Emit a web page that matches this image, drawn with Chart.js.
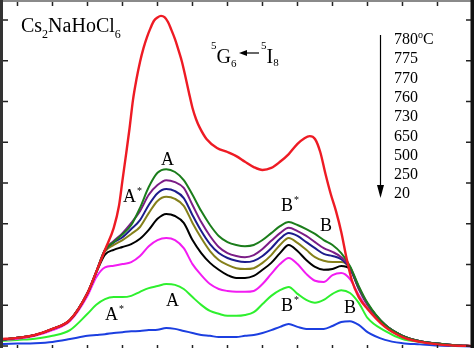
<!DOCTYPE html>
<html>
<head>
<meta charset="utf-8">
<script src="https://cdn.jsdelivr.net/npm/chart.js@4.4.0/dist/chart.umd.min.js"></script>
<style>
  html, body { margin: 0; padding: 0; background: #fff; }
  #wrap { width: 474px; height: 348px; position: relative; }
</style>
</head>
<body>
<div id="wrap"><canvas id="spectrum"></canvas></div>
<script>
// energy axis, arbitrary units (one tick = 1)
const xs = [-0.5, 0, 0.5, 1, 1.5, 2, 2.25, 2.5, 2.75, 3, 3.25, 3.5, 3.75, 4, 4.25, 4.5, 4.75, 5, 5.25, 5.5, 5.75,
  6, 6.25, 6.5, 6.75, 7, 7.25, 7.5, 7.75, 8, 8.25, 8.5, 8.75, 9, 9.25, 9.5, 9.75, 10, 10.5, 11, 11.5, 12, 12.5, 13];
const xsRed = [-0.5, 0, 0.5, 1, 1.5, 2, 2.25, 2.5, 2.75, 2.9, 3, 3.1, 3.2, 3.3, 3.4, 3.5, 3.6, 3.7, 3.8, 3.9, 4, 4.1,
  4.2, 4.3, 4.4, 4.5, 4.6, 4.7, 4.8, 4.9, 5, 5.1, 5.2, 5.4, 5.7, 6, 6.25, 6.5, 6.75, 7, 7.25, 7.5, 7.75, 8,
  8.2, 8.35, 8.5, 8.65, 8.8, 8.95, 9.1, 9.25, 9.4, 9.55, 9.75, 10, 10.5, 11, 11.5, 12, 12.5, 13];

// absorbance (a.u.) per temperature
const t780 = [0.17, 0.20, 0.27, 0.42, 0.64, 1.30, 1.82, 2.36, 2.90, 3.44, 4.07, 4.69, 5.33, 6.04, 6.55, 6.97, 7.31, 7.58, 7.80, 7.98, 8.06, 8.10,
  8.07, 7.95, 7.75, 7.53, 7.26, 6.97, 6.60, 6.21, 5.84, 5.57, 5.37, 5.08, 4.86, 4.76, 4.66, 4.52, 4.39, 4.32, 4.37, 4.52, 4.71, 4.96,
  5.10, 5.15, 5.08, 4.76, 4.22, 3.73, 3.31, 2.80, 2.16, 1.62, 1.20, 0.91, 0.47, 0.22, 0.10, 0.04, 0.01, 0.00];
const t775 = [0.15, 0.20, 0.27, 0.42, 0.64, 1.30, 1.82, 2.36, 2.55, 2.74, 2.97, 3.39, 3.90, 4.25, 4.34, 4.27, 4.07, 3.71, 3.31, 2.97, 2.70,
  2.55, 2.48, 2.45, 2.48, 2.60, 2.77, 2.94, 3.04, 2.97, 2.87, 2.75, 2.60, 2.48, 2.28, 1.96, 1.47, 1.06, 0.52, 0.25, 0.12, 0.06, 0.02, 0.00];
const t770 = [0.15, 0.20, 0.27, 0.42, 0.64, 1.30, 1.82, 2.36, 2.58, 2.77, 3.02, 3.31, 3.71, 3.95, 4.07, 4.02, 3.88, 3.46, 3.04, 2.70, 2.43,
  2.28, 2.21, 2.18, 2.23, 2.38, 2.58, 2.77, 2.90, 2.82, 2.70, 2.55, 2.40, 2.31, 2.18, 1.94, 1.45, 1.03, 0.52, 0.25, 0.12, 0.06, 0.02, 0.00];
const t760 = [0.15, 0.20, 0.27, 0.42, 0.64, 1.30, 1.82, 2.35, 2.54, 2.67, 2.87, 3.09, 3.46, 3.75, 3.85, 3.80, 3.63, 3.21, 2.82, 2.50, 2.28,
  2.16, 2.09, 2.06, 2.09, 2.21, 2.40, 2.63, 2.77, 2.70, 2.55, 2.40, 2.26, 2.21, 2.13, 1.91, 1.42, 1.03, 0.52, 0.25, 0.12, 0.06, 0.02, 0.00];
const t730 = [0.15, 0.20, 0.27, 0.42, 0.64, 1.30, 1.81, 2.32, 2.48, 2.60, 2.75, 2.92, 3.26, 3.56, 3.66, 3.61, 3.44, 3.02, 2.65, 2.33, 2.11,
  1.99, 1.91, 1.89, 1.91, 2.04, 2.23, 2.48, 2.65, 2.53, 2.36, 2.18, 2.09, 2.06, 2.06, 1.91, 1.40, 1.01, 0.49, 0.25, 0.12, 0.06, 0.02, 0.00];
const t650 = [0.15, 0.20, 0.27, 0.42, 0.64, 1.30, 1.80, 2.24, 2.36, 2.43, 2.50, 2.63, 2.85, 3.12, 3.24, 3.19, 3.02, 2.60, 2.28, 2.04, 1.87,
  1.74, 1.67, 1.67, 1.72, 1.87, 2.04, 2.28, 2.48, 2.33, 2.11, 1.94, 1.87, 1.89, 1.96, 1.89, 1.42, 1.03, 0.52, 0.25, 0.12, 0.06, 0.02, 0.00];
const t500 = [0.15, 0.18, 0.25, 0.39, 0.61, 1.23, 1.69, 1.93, 1.97, 2.01, 2.06, 2.21, 2.45, 2.60, 2.65, 2.60, 2.40, 2.01, 1.74, 1.52, 1.40,
  1.35, 1.33, 1.33, 1.35, 1.52, 1.77, 2.01, 2.16, 2.01, 1.77, 1.60, 1.57, 1.74, 1.79, 1.64, 1.25, 0.93, 0.49, 0.22, 0.11, 0.05, 0.02, 0.00];
const t250 = [0.12, 0.15, 0.18, 0.25, 0.39, 0.79, 1.01, 1.15, 1.20, 1.20, 1.23, 1.33, 1.42, 1.47, 1.52, 1.50, 1.40, 1.20, 1.01, 0.86, 0.79,
  0.74, 0.74, 0.76, 0.83, 1.03, 1.23, 1.37, 1.45, 1.28, 1.13, 1.06, 1.13, 1.28, 1.37, 1.30, 1.06, 0.69, 0.37, 0.17, 0.10, 0.05, 0.01, 0.00];
const t20 = [0.05, 0.06, 0.07, 0.10, 0.17, 0.25, 0.27, 0.29, 0.32, 0.34, 0.36, 0.37, 0.39, 0.40, 0.44, 0.42, 0.37, 0.32, 0.27, 0.25, 0.22,
  0.22, 0.22, 0.25, 0.27, 0.32, 0.39, 0.47, 0.54, 0.47, 0.42, 0.42, 0.42, 0.49, 0.59, 0.61, 0.52, 0.34, 0.15, 0.07, 0.04, 0.01, 0.00, -0.01];

const temps = ['780', '775', '770', '760', '730', '650', '500', '250', '20'];
const xTicks = [0, 1, 2, 3, 4, 5, 6, 7, 8, 9, 10, 11, 12, 13];
const yTicks = [0, 1, 2, 3, 4, 5, 6, 7, 8];

const colors = ['#ee1b24', '#1b7d1b', '#7b1d86', '#1c1c8c', '#85801a', '#000000', '#f21cf2', '#2ef02e', '#1c3fe0'];
const seriesY = [t780, t775, t770, t760, t730, t650, t500, t250, t20];
const seriesX = [xsRed, xs, xs, xs, xs, xs, xs, xs, xs];

const SERIF = '"Liberation Serif", "Times New Roman", serif';

function rich(ctx, x, y, parts) {
  // parts: [text, size, dy]
  parts.forEach(([t, s, dy]) => {
    ctx.font = s + 'px ' + SERIF;
    ctx.fillText(t, x, y + (dy || 0));
    x += ctx.measureText(t).width;
  });
}

const decor = {
  id: 'decor',
  afterDraw(chart) {
    const { ctx, chartArea: a, scales: { x, y } } = chart;
    ctx.save();

    // inward ticks
    ctx.strokeStyle = '#222';
    ctx.lineWidth = 1.5;
    ctx.beginPath();
    xTicks.forEach(v => {
      const px = x.getPixelForValue(v);
      ctx.moveTo(px, a.top); ctx.lineTo(px, a.top + 6);
      ctx.moveTo(px, a.bottom); ctx.lineTo(px, a.bottom - 3);
    });
    yTicks.forEach(v => {
      const py = y.getPixelForValue(v);
      ctx.moveTo(a.left, py); ctx.lineTo(a.left + 8, py);
      ctx.moveTo(a.right, py); ctx.lineTo(a.right - 8, py);
    });
    ctx.stroke();

    // frame
    ctx.fillStyle = '#8a8a8a';
    ctx.fillRect(a.left, a.top, a.right - a.left, 2);
    ctx.fillStyle = '#333';
    ctx.fillRect(a.left, a.top, 3, a.bottom - a.top);
    ctx.fillStyle = '#111';
    ctx.fillRect(a.right - 3.5, a.top, 3.5, a.bottom - a.top);

    ctx.fillStyle = '#000';
    ctx.textBaseline = 'alphabetic';

    // compound
    rich(ctx, 21, 32, [['Cs', 20], ['2', 12, 6], ['NaHoCl', 20], ['6', 12, 6]]);

    // transition
    rich(ctx, 211, 63, [['5', 11, -14], ['G', 20], ['6', 11, 4]]);
    ctx.strokeStyle = '#000';
    ctx.lineWidth = 1.2;
    ctx.beginPath();
    ctx.moveTo(244, 53); ctx.lineTo(259, 53);
    ctx.stroke();
    ctx.beginPath();
    ctx.moveTo(239, 53); ctx.lineTo(247, 50); ctx.lineTo(247, 56); ctx.closePath();
    ctx.fill();
    rich(ctx, 261, 63, [['5', 11, -14], ['I', 20], ['8', 11, 3]]);

    // temperature list with arrow
    temps.forEach((t, i) => {
      const base = 44 + i * 19.3;
      if (i === 0) rich(ctx, 394, base, [[t, 16], ['o', 10, -6], ['C', 16]]);
      else rich(ctx, 394, base, [[t, 16]]);
    });
    ctx.beginPath();
    ctx.moveTo(380.5, 35); ctx.lineTo(380.5, 188);
    ctx.stroke();
    ctx.beginPath();
    ctx.moveTo(380.5, 198); ctx.lineTo(377, 185); ctx.lineTo(384, 185); ctx.closePath();
    ctx.fill();

    // band labels
    const lab = (t, px, py, star) => {
      ctx.font = '18px ' + SERIF;
      ctx.fillText(t, px, py);
      if (star) {
        const w = ctx.measureText(t).width;
        ctx.font = '10px ' + SERIF;
        ctx.fillText('*', px + w + 1, py - 8);
      }
    };
    lab('A', 161, 165);
    lab('A', 123, 202, true);
    lab('B', 281, 211, true);
    lab('B', 320, 231);
    lab('A', 105, 320, true);
    lab('A', 166, 306);
    lab('B', 281, 311, true);
    lab('B', 344, 313);

    ctx.restore();
  }
};

new Chart(document.getElementById('spectrum').getContext('2d'), {
  type: 'line',
  data: {
    datasets: seriesY.map((vals, i) => ({
      label: temps[i] + ' °C',
      data: seriesX[i].map((xv, j) => ({ x: xv, y: vals[j] })),
      borderColor: colors[i],
      borderWidth: i === 0 ? 2.4 : 2,
      fill: false,
      pointRadius: 0,
      cubicInterpolationMode: 'monotone'
    }))
  },
  options: {
    responsive: true,
    maintainAspectRatio: false,
    animation: false,
    events: [],
    layout: { padding: 0 },
    plugins: { legend: { display: false }, tooltip: { enabled: false } },
    scales: {
      x: { type: 'linear', min: -0.5, max: 13.043, display: false },
      y: { type: 'linear', min: -0.049, max: 8.49, display: false }
    }
  },
  plugins: [decor]
});
</script>
</body>
</html>
